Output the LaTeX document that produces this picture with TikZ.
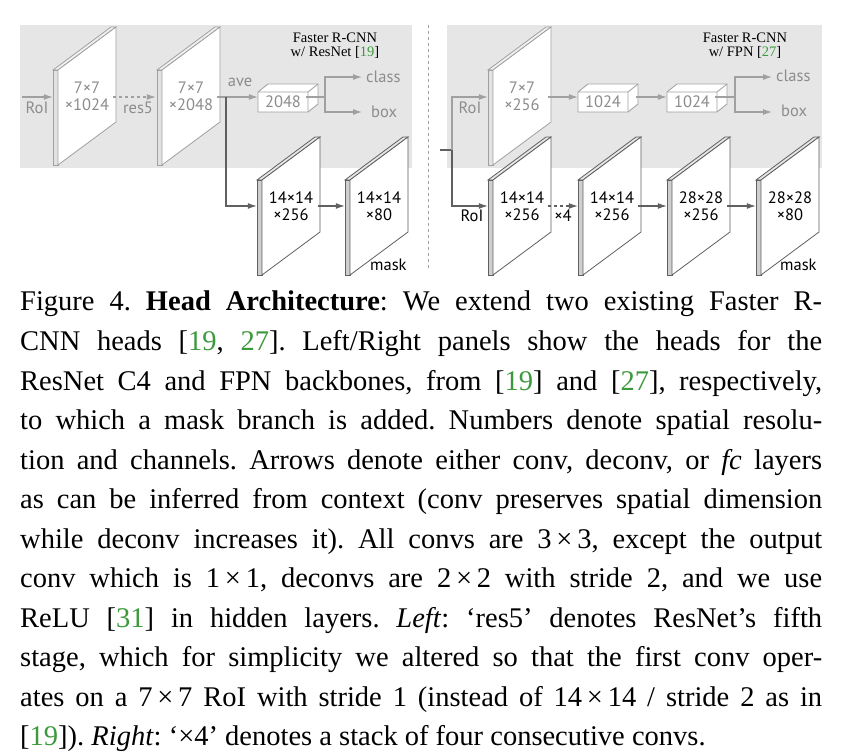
\documentclass[tikz,border=0pt]{standalone}
\usepackage{fontspec}
\usetikzlibrary{arrows.meta}
\setmainfont{Liberation Serif}
\newfontfamily\dsans{PT Sans}
\frenchspacing
\definecolor{bggray}{HTML}{E6E6E6}
\definecolor{citeg}{HTML}{3C9A3C}
\definecolor{lgray}{HTML}{A0A0A0}
\definecolor{tgray}{HTML}{8C8C8C}
\definecolor{dgray}{HTML}{606060}
\newcommand\cg[1]{\textcolor{citeg}{#1}}
\newcommand\tx{\,×\,}
\newcommand\slab[6]{% name, x0, yt, text, linecolor, textcolor
 \fill[fill=#5!30!white,draw=#5,line width=0.8pt] (#2-5,#3+95)--(#2-5,#3)--(#2,#3)--(#2,#3+95)--cycle;
 \fill[fill=#5!15!white,draw=#5,line width=0.8pt] (#2-5,#3)--(#2+53,#3-43)--(#2+58,#3-43)--(#2,#3)--cycle;
 \fill[fill=white,draw=#5,line width=0.8pt] (#2,#3+95)--(#2,#3)--(#2+58,#3-43)--(#2+58,#3+52)--cycle;
 \node[text=#6,font=\dsans\fontsize{16.5}{17}\selectfont,align=center,minimum width=58pt,inner sep=0pt] (#1) at (#2+29,#3+26) {#4};}
\newcommand\cube[4]{% name, x0, ytop, text
 \draw[lgray,line width=0.8pt,fill=white] (#2,#3)--(#2+10,#3-8)--(#2+60,#3-8)--(#2+60,#3+12)--(#2+50,#3+20)--(#2,#3+20)--cycle;
 \draw[lgray,line width=0.8pt] (#2,#3)--(#2+50,#3)--(#2+60,#3-8) (#2+50,#3)--(#2+50,#3+20);
 \node[text=tgray,font=\dsans\fontsize{16.5}{17}\selectfont,minimum width=50pt,inner sep=0pt] (#1) at (#2+25,#3+10) {#4};}
\begin{document}
\begin{tikzpicture}[x=1pt,y=-1pt,
  arr/.style={-{Latex[length=9pt,width=6pt]},line width=1.1pt},
  lab/.style={font=\dsans\fontsize{16.5}{17}\selectfont,inner sep=0pt},
  ttl/.style={font=\fontsize{14.5}{16}\selectfont,align=center,inner sep=0pt},
  captxt/.style={anchor=base west,inner sep=0pt,font=\fontsize{28.5}{30}\selectfont}]
\useasboundingbox (0,0) rectangle (852,754);
\fill[white] (0,0) rectangle (852,754);
\fill[bggray] (20,25) rectangle (412,168);
\fill[bggray] (447,25) rectangle (822,168);
\draw[lgray,dashed,line width=0.8pt] (428,25)--(428,270);
% titles
\node[ttl] (t1) at (335,46) {Faster R-CNN\\[-2pt] w/ ResNet [\cg{19}]};
\node[ttl] (t2) at (745,46) {Faster R-CNN\\[-2pt] w/ FPN [\cg{27}]};
% left panel
\slab{p1}{58}{70}{7×7\\×1024}{lgray}{tgray}
\slab{p2}{162}{70}{7×7\\×2048}{lgray}{tgray}
\cube{b1}{258}{92}{2048}
\slab{p3}{262}{180}{14×14\\×256}{dgray}{black}
\slab{p4}{350}{180}{14×14\\×80}{dgray}{black}
\coordinate (in1) at (22,97);
\draw[arr,lgray] (in1) -- ([xshift=-5pt]p1.west|-in1);
\node[lab,text=tgray] (roi1) at (37,108) {RoI};
\draw[arr,lgray,dashed] ([xshift=-3pt]p1.east|-in1) -- ([xshift=-6pt]p2.west|-in1);
\node[lab,text=tgray] (res5) at (138,108) {res5};
\coordinate (s1) at (226,97);
\draw[arr,lgray] ([xshift=-3pt]p2.east|-in1) -- (b1.west|-in1);
\node[lab,text=tgray] (ave) at (240,82) {ave};
\draw[arr,dgray] (s1) |- ([xshift=-5pt]p3.west);
\coordinate (s2) at (325,97);
\draw[lgray,line width=1.1pt] ([xshift=-2pt]b1.east|-s2) -- (s2);
\draw[arr,lgray] (s2) |- (362,77);
\draw[arr,lgray] (s2) |- (362,112);
\node[lab,text=tgray,anchor=west] (cls1) at (366,77) {class};
\node[lab,text=tgray,anchor=west] (box1) at (371,112) {box};
\draw[arr,dgray] ([xshift=-2pt]p3.east) -- ([xshift=-5pt]p4.west);
\node[lab,anchor=west] (m1) at (370,265) {mask};
% right panel
\slab{p5}{493}{70}{7×7\\×256}{lgray}{tgray}
\cube{b2}{578}{92}{1024}
\cube{b3}{667}{92}{1024}
\slab{p6}{493}{180}{14×14\\×256}{dgray}{black}
\slab{p7}{583}{180}{14×14\\×256}{dgray}{black}
\slab{p8}{672}{180}{28×28\\×256}{dgray}{black}
\slab{p9}{761}{180}{28×28\\×80}{dgray}{black}
\coordinate (in2) at (440,150);
\coordinate (s3) at (452,150);
\draw[dgray,line width=1.1pt] (in2) -- (s3);
\draw[arr,lgray] (s3) |- ([xshift=-5pt]p5.west|-in1);
\draw[arr,dgray] (s3) |- ([xshift=-5pt]p6.west);
\node[lab,text=tgray] (roi2) at (470,108) {RoI};
\node[lab] (roi3) at (472,216) {RoI};
\draw[arr,lgray] ([xshift=-3pt]p5.east|-in1) -- (b2.west|-in1);
\draw[arr,lgray] ([xshift=8pt]b2.east|-in1) -- (b3.west|-in1);
\coordinate (s4) at (735,97);
\draw[lgray,line width=1.1pt] ([xshift=-2pt]b3.east|-s4) -- (s4);
\draw[arr,lgray] (s4) |- (772,77);
\draw[arr,lgray] (s4) |- (772,112);
\node[lab,text=tgray,anchor=west] (cls2) at (776,76) {class};
\node[lab,text=tgray,anchor=west] (box2) at (781,111) {box};
\draw[arr,dgray,dashed] ([xshift=-3pt]p6.east) -- ([xshift=-5pt]p7.west);
\node[lab] (x4) at (563,216) {×4};
\draw[arr,dgray] ([xshift=-3pt]p7.east) -- ([xshift=-5pt]p8.west);
\draw[arr,dgray] ([xshift=-3pt]p8.east) -- ([xshift=-5pt]p9.west);
\node[lab,anchor=west] (m2) at (780,265) {mask};
% caption
\def\lw{802pt}
\node[captxt] (c1) at (20,311) {\makebox[\lw][s]{Figure 4. \textbf{Head Architecture}: We extend two existing Faster R-}};
\node[captxt] (c2) at (20,350.5) {\makebox[\lw][s]{CNN heads [\cg{19}, \cg{27}]. Left/Right panels show the heads for the}};
\node[captxt] (c3) at (20,390) {\makebox[\lw][s]{ResNet C4 and FPN backbones, from [\cg{19}] and [\cg{27}], respectively,}};
\node[captxt] (c4) at (20,429.5) {\makebox[\lw][s]{to which a mask branch is added. Numbers denote spatial resolu-}};
\node[captxt] (c5) at (20,469) {\makebox[\lw][s]{tion and channels. Arrows denote either conv, deconv, or \textit{fc} layers}};
\node[captxt] (c6) at (20,508.5) {\makebox[\lw][s]{as can be inferred from context (conv preserves spatial dimension}};
\node[captxt] (c7) at (20,548) {\makebox[\lw][s]{while deconv increases it). All convs are 3\tx3, except the output}};
\node[captxt] (c8) at (20,587.5) {\makebox[\lw][s]{conv which is 1\tx1, deconvs are 2\tx2 with stride 2, and we use}};
\node[captxt] (c9) at (20,627) {\makebox[\lw][s]{ReLU [\cg{31}] in hidden layers. \textit{Left}: ‘res5’ denotes ResNet’s fifth}};
\node[captxt] (c10) at (20,666.5) {\makebox[\lw][s]{stage, which for simplicity we altered so that the first conv oper-}};
\node[captxt] (c11) at (20,706) {\makebox[\lw][s]{ates on a 7\tx7 RoI with stride 1 (instead of 14\tx14 / stride 2 as in}};
\node[captxt] (c12) at (20,745.5) {[\cg{19}]). \textit{Right}: ‘×4’ denotes a stack of four consecutive convs.};
\end{tikzpicture}
\end{document}
